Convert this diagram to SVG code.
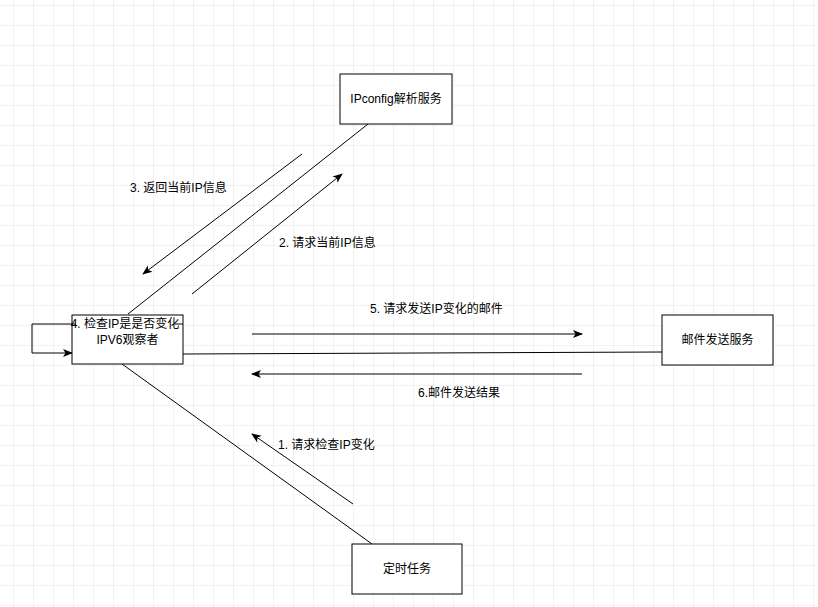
<svg xmlns="http://www.w3.org/2000/svg" width="818" height="607" viewBox="0 0 818 607">
<defs>
<pattern id="g" width="20" height="20" patternUnits="userSpaceOnUse" x="13" y="5"><path d="M0,0H20M0,0V20" fill="none" stroke="#e6e6e6" stroke-width="1"/></pattern>
<marker id="a" markerWidth="10" markerHeight="10" refX="9" refY="5" orient="auto" markerUnits="userSpaceOnUse"><path d="M0,1L10,5L0,9L2.5,5z" fill="#000"/></marker>
<style>
.b{fill:#fff;stroke:#000;stroke-width:1}
.t{font-family:"Liberation Sans","Noto Sans CJK SC",sans-serif;font-size:12px;fill:#000}
.l{stroke:#000;stroke-width:1;fill:none}
</style>
</defs>
<rect width="818" height="607" fill="#fff"/>
<rect width="818" height="607" fill="url(#g)"/>
<g id="connectors">
<path class="l" d="M128,314L368,124"/>
<path class="l" d="M183,354L662,352"/>
<path class="l" d="M122,364L372,544"/>
<path class="l" d="M302,154L143,274" marker-end="url(#a)"/>
<path class="l" d="M192,294L342,174" marker-end="url(#a)"/>
<path class="l" d="M252,334L582,334" marker-end="url(#a)"/>
<path class="l" d="M582,374L252,374" marker-end="url(#a)"/>
<path class="l" d="M353,504L252,434" marker-end="url(#a)"/>
<path class="l" d="M72,324L32,324L32,353L72,353" marker-end="url(#a)"/>
<text class="t" x="130" y="192">3. 返回当前IP信息</text>
<text class="t" x="279" y="247">2. 请求当前IP信息</text>
<text class="t" x="370" y="313">5. 请求发送IP变化的邮件</text>
<text class="t" x="418" y="397">6.邮件发送结果</text>
<text class="t" x="278" y="449">1. 请求检查IP变化</text>
</g>
<g id="ipv6"><rect class="b" x="72" y="315" width="111" height="49"/>
<path class="l" d="M72,324H76M175,324H183"/>
<text class="t" x="125" y="328" text-anchor="middle">4. 检查IP是是否变化</text>
<text class="t" x="127.5" y="344" text-anchor="middle">IPV6观察者</text></g>
<g id="ipconfig"><rect class="b" x="340" y="74" width="112" height="50"/><text class="t" x="396" y="103" text-anchor="middle">IPconfig解析服务</text></g>
<g id="mail"><rect class="b" x="662" y="315" width="111" height="50"/><text class="t" x="717.5" y="344" text-anchor="middle">邮件发送服务</text></g>
<g id="timer"><rect class="b" x="352" y="544" width="110" height="50"/><text class="t" x="407" y="573" text-anchor="middle">定时任务</text></g>
</svg>
